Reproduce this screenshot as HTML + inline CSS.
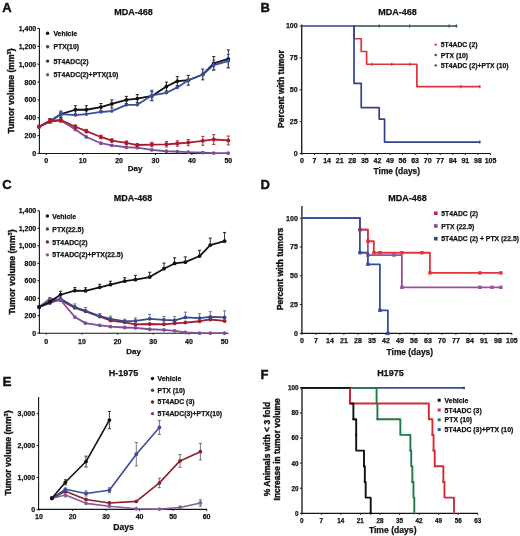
<!DOCTYPE html>
<html><head><meta charset="utf-8"><style>
html,body{margin:0;padding:0;background:#fff;width:520px;height:536px;overflow:hidden}
svg{display:block;filter:blur(0.35px)}
text{font-family:"Liberation Sans", sans-serif;stroke:#222;stroke-width:0.25px;paint-order:stroke}
</style></head><body>
<svg width="520" height="536" viewBox="0 0 520 536">
<rect width="520" height="536" fill="#fff"/>
<line x1="39.40" y1="28.30" x2="39.40" y2="154.10" stroke="#151515" stroke-width="1.1" />
<line x1="38.80" y1="153.50" x2="228.50" y2="153.50" stroke="#151515" stroke-width="1.1" />
<line x1="37.40" y1="153.50" x2="39.40" y2="153.50" stroke="#151515" stroke-width="1" />
<text x="36.20" y="156.00" font-size="7" text-anchor="end" font-weight="bold" fill="#111" >0</text>
<line x1="37.40" y1="135.64" x2="39.40" y2="135.64" stroke="#151515" stroke-width="1" />
<text x="36.20" y="138.14" font-size="7" text-anchor="end" font-weight="bold" fill="#111" >200</text>
<line x1="37.40" y1="117.78" x2="39.40" y2="117.78" stroke="#151515" stroke-width="1" />
<text x="36.20" y="120.28" font-size="7" text-anchor="end" font-weight="bold" fill="#111" >400</text>
<line x1="37.40" y1="99.92" x2="39.40" y2="99.92" stroke="#151515" stroke-width="1" />
<text x="36.20" y="102.42" font-size="7" text-anchor="end" font-weight="bold" fill="#111" >600</text>
<line x1="37.40" y1="82.06" x2="39.40" y2="82.06" stroke="#151515" stroke-width="1" />
<text x="36.20" y="84.56" font-size="7" text-anchor="end" font-weight="bold" fill="#111" >800</text>
<line x1="37.40" y1="64.20" x2="39.40" y2="64.20" stroke="#151515" stroke-width="1" />
<text x="36.20" y="66.70" font-size="7" text-anchor="end" font-weight="bold" fill="#111" >1,000</text>
<line x1="37.40" y1="46.34" x2="39.40" y2="46.34" stroke="#151515" stroke-width="1" />
<text x="36.20" y="48.84" font-size="7" text-anchor="end" font-weight="bold" fill="#111" >1,200</text>
<line x1="37.40" y1="28.48" x2="39.40" y2="28.48" stroke="#151515" stroke-width="1" />
<text x="36.20" y="30.98" font-size="7" text-anchor="end" font-weight="bold" fill="#111" >1,400</text>
<line x1="46.30" y1="153.50" x2="46.30" y2="155.00" stroke="#151515" stroke-width="1" />
<text x="46.30" y="162.90" font-size="7" text-anchor="middle" font-weight="bold" fill="#111" >0</text>
<line x1="82.70" y1="153.50" x2="82.70" y2="155.00" stroke="#151515" stroke-width="1" />
<text x="82.70" y="162.90" font-size="7" text-anchor="middle" font-weight="bold" fill="#111" >10</text>
<line x1="119.10" y1="153.50" x2="119.10" y2="155.00" stroke="#151515" stroke-width="1" />
<text x="119.10" y="162.90" font-size="7" text-anchor="middle" font-weight="bold" fill="#111" >20</text>
<line x1="155.50" y1="153.50" x2="155.50" y2="155.00" stroke="#151515" stroke-width="1" />
<text x="155.50" y="162.90" font-size="7" text-anchor="middle" font-weight="bold" fill="#111" >30</text>
<line x1="191.90" y1="153.50" x2="191.90" y2="155.00" stroke="#151515" stroke-width="1" />
<text x="191.90" y="162.90" font-size="7" text-anchor="middle" font-weight="bold" fill="#111" >40</text>
<line x1="228.30" y1="153.50" x2="228.30" y2="155.00" stroke="#151515" stroke-width="1" />
<text x="228.30" y="162.90" font-size="7" text-anchor="middle" font-weight="bold" fill="#111" >50</text>
<text x="135.10" y="171.10" font-size="8" text-anchor="middle" font-weight="bold" fill="#111" >Day</text>
<text x="14.3" y="91" font-size="8.6" font-weight="bold" fill="#111" text-anchor="middle" style="stroke-width:0.4px" transform="rotate(-90 14.3 91)">Tumor volume (mm<tspan font-size="5.5" dy="-3">3</tspan><tspan dy="3">)</tspan></text>
<text x="133.50" y="15.10" font-size="9" text-anchor="middle" font-weight="bold" fill="#111" >MDA-468</text>
<text x="2.20" y="11.60" font-size="13" text-anchor="start" font-weight="bold" fill="#111" style="stroke:#000;stroke-width:0.4px">A</text>
<line x1="49.94" y1="118.67" x2="49.94" y2="123.14" stroke="#111" stroke-width="0.9" />
<line x1="48.34" y1="118.67" x2="51.54" y2="118.67" stroke="#111" stroke-width="0.9" />
<line x1="48.34" y1="123.14" x2="51.54" y2="123.14" stroke="#111" stroke-width="0.9" />
<line x1="60.86" y1="111.08" x2="60.86" y2="117.33" stroke="#111" stroke-width="0.9" />
<line x1="59.26" y1="111.08" x2="62.46" y2="111.08" stroke="#111" stroke-width="0.9" />
<line x1="59.26" y1="117.33" x2="62.46" y2="117.33" stroke="#111" stroke-width="0.9" />
<line x1="75.42" y1="105.72" x2="75.42" y2="113.76" stroke="#111" stroke-width="0.9" />
<line x1="73.82" y1="105.72" x2="77.02" y2="105.72" stroke="#111" stroke-width="0.9" />
<line x1="73.82" y1="113.76" x2="77.02" y2="113.76" stroke="#111" stroke-width="0.9" />
<line x1="86.34" y1="105.72" x2="86.34" y2="113.76" stroke="#111" stroke-width="0.9" />
<line x1="84.74" y1="105.72" x2="87.94" y2="105.72" stroke="#111" stroke-width="0.9" />
<line x1="84.74" y1="113.76" x2="87.94" y2="113.76" stroke="#111" stroke-width="0.9" />
<line x1="100.90" y1="103.49" x2="100.90" y2="110.64" stroke="#111" stroke-width="0.9" />
<line x1="99.30" y1="103.49" x2="102.50" y2="103.49" stroke="#111" stroke-width="0.9" />
<line x1="99.30" y1="110.64" x2="102.50" y2="110.64" stroke="#111" stroke-width="0.9" />
<line x1="111.82" y1="99.92" x2="111.82" y2="107.96" stroke="#111" stroke-width="0.9" />
<line x1="110.22" y1="99.92" x2="113.42" y2="99.92" stroke="#111" stroke-width="0.9" />
<line x1="110.22" y1="107.96" x2="113.42" y2="107.96" stroke="#111" stroke-width="0.9" />
<line x1="126.38" y1="96.35" x2="126.38" y2="103.49" stroke="#111" stroke-width="0.9" />
<line x1="124.78" y1="96.35" x2="127.98" y2="96.35" stroke="#111" stroke-width="0.9" />
<line x1="124.78" y1="103.49" x2="127.98" y2="103.49" stroke="#111" stroke-width="0.9" />
<line x1="137.30" y1="94.56" x2="137.30" y2="102.60" stroke="#111" stroke-width="0.9" />
<line x1="135.70" y1="94.56" x2="138.90" y2="94.56" stroke="#111" stroke-width="0.9" />
<line x1="135.70" y1="102.60" x2="138.90" y2="102.60" stroke="#111" stroke-width="0.9" />
<line x1="151.86" y1="91.44" x2="151.86" y2="100.37" stroke="#111" stroke-width="0.9" />
<line x1="150.26" y1="91.44" x2="153.46" y2="91.44" stroke="#111" stroke-width="0.9" />
<line x1="150.26" y1="100.37" x2="153.46" y2="100.37" stroke="#111" stroke-width="0.9" />
<line x1="166.42" y1="82.06" x2="166.42" y2="90.99" stroke="#111" stroke-width="0.9" />
<line x1="164.82" y1="82.06" x2="168.02" y2="82.06" stroke="#111" stroke-width="0.9" />
<line x1="164.82" y1="90.99" x2="168.02" y2="90.99" stroke="#111" stroke-width="0.9" />
<line x1="177.34" y1="76.70" x2="177.34" y2="85.63" stroke="#111" stroke-width="0.9" />
<line x1="175.74" y1="76.70" x2="178.94" y2="76.70" stroke="#111" stroke-width="0.9" />
<line x1="175.74" y1="85.63" x2="178.94" y2="85.63" stroke="#111" stroke-width="0.9" />
<line x1="188.26" y1="75.36" x2="188.26" y2="85.19" stroke="#111" stroke-width="0.9" />
<line x1="186.66" y1="75.36" x2="189.86" y2="75.36" stroke="#111" stroke-width="0.9" />
<line x1="186.66" y1="85.19" x2="189.86" y2="85.19" stroke="#111" stroke-width="0.9" />
<line x1="202.82" y1="69.11" x2="202.82" y2="79.83" stroke="#111" stroke-width="0.9" />
<line x1="201.22" y1="69.11" x2="204.42" y2="69.11" stroke="#111" stroke-width="0.9" />
<line x1="201.22" y1="79.83" x2="204.42" y2="79.83" stroke="#111" stroke-width="0.9" />
<line x1="213.74" y1="56.61" x2="213.74" y2="70.00" stroke="#111" stroke-width="0.9" />
<line x1="212.14" y1="56.61" x2="215.34" y2="56.61" stroke="#111" stroke-width="0.9" />
<line x1="212.14" y1="70.00" x2="215.34" y2="70.00" stroke="#111" stroke-width="0.9" />
<line x1="228.30" y1="49.91" x2="228.30" y2="67.77" stroke="#111" stroke-width="0.9" />
<line x1="226.70" y1="49.91" x2="229.90" y2="49.91" stroke="#111" stroke-width="0.9" />
<line x1="226.70" y1="67.77" x2="229.90" y2="67.77" stroke="#111" stroke-width="0.9" />
<polyline points="39.02,126.71 49.94,120.91 60.86,114.21 75.42,109.74 86.34,109.74 100.90,107.06 111.82,103.94 126.38,99.92 137.30,98.58 151.86,95.90 166.42,86.52 177.34,81.17 188.26,80.27 202.82,74.47 213.74,63.31 228.30,58.84" fill="none" stroke="#111" stroke-width="1.8" stroke-linejoin="round" />
<circle cx="39.02" cy="126.71" r="1.9" fill="#111"/>
<circle cx="49.94" cy="120.91" r="1.9" fill="#111"/>
<circle cx="60.86" cy="114.21" r="1.9" fill="#111"/>
<circle cx="75.42" cy="109.74" r="1.9" fill="#111"/>
<circle cx="86.34" cy="109.74" r="1.9" fill="#111"/>
<circle cx="100.90" cy="107.06" r="1.9" fill="#111"/>
<circle cx="111.82" cy="103.94" r="1.9" fill="#111"/>
<circle cx="126.38" cy="99.92" r="1.9" fill="#111"/>
<circle cx="137.30" cy="98.58" r="1.9" fill="#111"/>
<circle cx="151.86" cy="95.90" r="1.9" fill="#111"/>
<circle cx="166.42" cy="86.52" r="1.9" fill="#111"/>
<circle cx="177.34" cy="81.17" r="1.9" fill="#111"/>
<circle cx="188.26" cy="80.27" r="1.9" fill="#111"/>
<circle cx="202.82" cy="74.47" r="1.9" fill="#111"/>
<circle cx="213.74" cy="63.31" r="1.9" fill="#111"/>
<circle cx="228.30" cy="58.84" r="1.9" fill="#111"/>
<line x1="60.86" y1="112.42" x2="60.86" y2="115.99" stroke="#3a509e" stroke-width="0.9" />
<line x1="59.26" y1="112.42" x2="62.46" y2="112.42" stroke="#3a509e" stroke-width="0.9" />
<line x1="59.26" y1="115.99" x2="62.46" y2="115.99" stroke="#3a509e" stroke-width="0.9" />
<line x1="151.86" y1="90.10" x2="151.86" y2="100.81" stroke="#3a509e" stroke-width="0.9" />
<line x1="150.26" y1="90.10" x2="153.46" y2="90.10" stroke="#3a509e" stroke-width="0.9" />
<line x1="150.26" y1="100.81" x2="153.46" y2="100.81" stroke="#3a509e" stroke-width="0.9" />
<line x1="213.74" y1="60.18" x2="213.74" y2="70.00" stroke="#3a509e" stroke-width="0.9" />
<line x1="212.14" y1="60.18" x2="215.34" y2="60.18" stroke="#3a509e" stroke-width="0.9" />
<line x1="212.14" y1="70.00" x2="215.34" y2="70.00" stroke="#3a509e" stroke-width="0.9" />
<line x1="228.30" y1="54.38" x2="228.30" y2="67.77" stroke="#3a509e" stroke-width="0.9" />
<line x1="226.70" y1="54.38" x2="229.90" y2="54.38" stroke="#3a509e" stroke-width="0.9" />
<line x1="226.70" y1="67.77" x2="229.90" y2="67.77" stroke="#3a509e" stroke-width="0.9" />
<polyline points="39.02,126.71 49.94,121.80 60.86,114.21 75.42,115.10 86.34,114.21 100.90,111.98 111.82,111.08 126.38,104.83 137.30,104.83 151.86,95.45 166.42,92.78 177.34,87.42 188.26,80.27 202.82,74.47 213.74,65.09 228.30,61.07" fill="none" stroke="#3a509e" stroke-width="1.8" stroke-linejoin="round" />
<circle cx="39.02" cy="126.71" r="1.8" fill="#3a509e"/>
<circle cx="49.94" cy="121.80" r="1.8" fill="#3a509e"/>
<circle cx="60.86" cy="114.21" r="1.8" fill="#3a509e"/>
<circle cx="75.42" cy="115.10" r="1.8" fill="#3a509e"/>
<circle cx="86.34" cy="114.21" r="1.8" fill="#3a509e"/>
<circle cx="100.90" cy="111.98" r="1.8" fill="#3a509e"/>
<circle cx="111.82" cy="111.08" r="1.8" fill="#3a509e"/>
<circle cx="126.38" cy="104.83" r="1.8" fill="#3a509e"/>
<circle cx="137.30" cy="104.83" r="1.8" fill="#3a509e"/>
<circle cx="151.86" cy="95.45" r="1.8" fill="#3a509e"/>
<circle cx="166.42" cy="92.78" r="1.8" fill="#3a509e"/>
<circle cx="177.34" cy="87.42" r="1.8" fill="#3a509e"/>
<circle cx="188.26" cy="80.27" r="1.8" fill="#3a509e"/>
<circle cx="202.82" cy="74.47" r="1.8" fill="#3a509e"/>
<circle cx="213.74" cy="65.09" r="1.8" fill="#3a509e"/>
<circle cx="228.30" cy="61.07" r="1.8" fill="#3a509e"/>
<line x1="60.86" y1="119.12" x2="60.86" y2="121.80" stroke="#7a4f9a" stroke-width="0.9" />
<line x1="59.26" y1="119.12" x2="62.46" y2="119.12" stroke="#7a4f9a" stroke-width="0.9" />
<line x1="59.26" y1="121.80" x2="62.46" y2="121.80" stroke="#7a4f9a" stroke-width="0.9" />
<line x1="75.42" y1="128.05" x2="75.42" y2="130.73" stroke="#7a4f9a" stroke-width="0.9" />
<line x1="73.82" y1="128.05" x2="77.02" y2="128.05" stroke="#7a4f9a" stroke-width="0.9" />
<line x1="73.82" y1="130.73" x2="77.02" y2="130.73" stroke="#7a4f9a" stroke-width="0.9" />
<polyline points="39.02,126.71 49.94,121.80 60.86,120.46 75.42,129.39 86.34,136.98 100.90,143.23 111.82,145.46 126.38,147.25 137.30,147.70 151.86,149.93 166.42,151.27 177.34,151.54 188.26,152.16 202.82,152.61 213.74,153.05 228.30,153.05" fill="none" stroke="#7a4f9a" stroke-width="1.8" stroke-linejoin="round" />
<circle cx="39.02" cy="126.71" r="1.9" fill="#7a4f9a"/>
<circle cx="49.94" cy="121.80" r="1.9" fill="#7a4f9a"/>
<circle cx="60.86" cy="120.46" r="1.9" fill="#7a4f9a"/>
<circle cx="75.42" cy="129.39" r="1.9" fill="#7a4f9a"/>
<circle cx="86.34" cy="136.98" r="1.9" fill="#7a4f9a"/>
<circle cx="100.90" cy="143.23" r="1.9" fill="#7a4f9a"/>
<circle cx="111.82" cy="145.46" r="1.9" fill="#7a4f9a"/>
<circle cx="126.38" cy="147.25" r="1.9" fill="#7a4f9a"/>
<circle cx="137.30" cy="147.70" r="1.9" fill="#7a4f9a"/>
<circle cx="151.86" cy="149.93" r="1.9" fill="#7a4f9a"/>
<circle cx="166.42" cy="151.27" r="1.9" fill="#7a4f9a"/>
<circle cx="177.34" cy="151.54" r="1.9" fill="#7a4f9a"/>
<circle cx="188.26" cy="152.16" r="1.9" fill="#7a4f9a"/>
<circle cx="202.82" cy="152.61" r="1.9" fill="#7a4f9a"/>
<circle cx="213.74" cy="153.05" r="1.9" fill="#7a4f9a"/>
<circle cx="228.30" cy="153.05" r="1.9" fill="#7a4f9a"/>
<line x1="49.94" y1="119.12" x2="49.94" y2="122.69" stroke="#a81c2e" stroke-width="0.9" />
<line x1="48.34" y1="119.12" x2="51.54" y2="119.12" stroke="#a81c2e" stroke-width="0.9" />
<line x1="48.34" y1="122.69" x2="51.54" y2="122.69" stroke="#a81c2e" stroke-width="0.9" />
<line x1="60.86" y1="117.78" x2="60.86" y2="122.24" stroke="#a81c2e" stroke-width="0.9" />
<line x1="59.26" y1="117.78" x2="62.46" y2="117.78" stroke="#a81c2e" stroke-width="0.9" />
<line x1="59.26" y1="122.24" x2="62.46" y2="122.24" stroke="#a81c2e" stroke-width="0.9" />
<line x1="75.42" y1="124.92" x2="75.42" y2="128.50" stroke="#a81c2e" stroke-width="0.9" />
<line x1="73.82" y1="124.92" x2="77.02" y2="124.92" stroke="#a81c2e" stroke-width="0.9" />
<line x1="73.82" y1="128.50" x2="77.02" y2="128.50" stroke="#a81c2e" stroke-width="0.9" />
<line x1="86.34" y1="129.39" x2="86.34" y2="132.96" stroke="#a81c2e" stroke-width="0.9" />
<line x1="84.74" y1="129.39" x2="87.94" y2="129.39" stroke="#a81c2e" stroke-width="0.9" />
<line x1="84.74" y1="132.96" x2="87.94" y2="132.96" stroke="#a81c2e" stroke-width="0.9" />
<line x1="100.90" y1="135.19" x2="100.90" y2="138.77" stroke="#a81c2e" stroke-width="0.9" />
<line x1="99.30" y1="135.19" x2="102.50" y2="135.19" stroke="#a81c2e" stroke-width="0.9" />
<line x1="99.30" y1="138.77" x2="102.50" y2="138.77" stroke="#a81c2e" stroke-width="0.9" />
<line x1="111.82" y1="138.77" x2="111.82" y2="142.34" stroke="#a81c2e" stroke-width="0.9" />
<line x1="110.22" y1="138.77" x2="113.42" y2="138.77" stroke="#a81c2e" stroke-width="0.9" />
<line x1="110.22" y1="142.34" x2="113.42" y2="142.34" stroke="#a81c2e" stroke-width="0.9" />
<line x1="126.38" y1="141.00" x2="126.38" y2="144.57" stroke="#a81c2e" stroke-width="0.9" />
<line x1="124.78" y1="141.00" x2="127.98" y2="141.00" stroke="#a81c2e" stroke-width="0.9" />
<line x1="124.78" y1="144.57" x2="127.98" y2="144.57" stroke="#a81c2e" stroke-width="0.9" />
<line x1="137.30" y1="143.68" x2="137.30" y2="146.36" stroke="#a81c2e" stroke-width="0.9" />
<line x1="135.70" y1="143.68" x2="138.90" y2="143.68" stroke="#a81c2e" stroke-width="0.9" />
<line x1="135.70" y1="146.36" x2="138.90" y2="146.36" stroke="#a81c2e" stroke-width="0.9" />
<line x1="151.86" y1="142.34" x2="151.86" y2="146.80" stroke="#a81c2e" stroke-width="0.9" />
<line x1="150.26" y1="142.34" x2="153.46" y2="142.34" stroke="#a81c2e" stroke-width="0.9" />
<line x1="150.26" y1="146.80" x2="153.46" y2="146.80" stroke="#a81c2e" stroke-width="0.9" />
<line x1="166.42" y1="141.62" x2="166.42" y2="146.98" stroke="#a81c2e" stroke-width="0.9" />
<line x1="164.82" y1="141.62" x2="168.02" y2="141.62" stroke="#a81c2e" stroke-width="0.9" />
<line x1="164.82" y1="146.98" x2="168.02" y2="146.98" stroke="#a81c2e" stroke-width="0.9" />
<line x1="177.34" y1="140.82" x2="177.34" y2="146.18" stroke="#a81c2e" stroke-width="0.9" />
<line x1="175.74" y1="140.82" x2="178.94" y2="140.82" stroke="#a81c2e" stroke-width="0.9" />
<line x1="175.74" y1="146.18" x2="178.94" y2="146.18" stroke="#a81c2e" stroke-width="0.9" />
<line x1="188.26" y1="139.48" x2="188.26" y2="145.73" stroke="#a81c2e" stroke-width="0.9" />
<line x1="186.66" y1="139.48" x2="189.86" y2="139.48" stroke="#a81c2e" stroke-width="0.9" />
<line x1="186.66" y1="145.73" x2="189.86" y2="145.73" stroke="#a81c2e" stroke-width="0.9" />
<line x1="202.82" y1="136.35" x2="202.82" y2="145.28" stroke="#a81c2e" stroke-width="0.9" />
<line x1="201.22" y1="136.35" x2="204.42" y2="136.35" stroke="#a81c2e" stroke-width="0.9" />
<line x1="201.22" y1="145.28" x2="204.42" y2="145.28" stroke="#a81c2e" stroke-width="0.9" />
<line x1="213.74" y1="134.57" x2="213.74" y2="144.39" stroke="#a81c2e" stroke-width="0.9" />
<line x1="212.14" y1="134.57" x2="215.34" y2="134.57" stroke="#a81c2e" stroke-width="0.9" />
<line x1="212.14" y1="144.39" x2="215.34" y2="144.39" stroke="#a81c2e" stroke-width="0.9" />
<line x1="228.30" y1="136.00" x2="228.30" y2="144.93" stroke="#a81c2e" stroke-width="0.9" />
<line x1="226.70" y1="136.00" x2="229.90" y2="136.00" stroke="#a81c2e" stroke-width="0.9" />
<line x1="226.70" y1="144.93" x2="229.90" y2="144.93" stroke="#a81c2e" stroke-width="0.9" />
<polyline points="39.02,126.71 49.94,120.91 60.86,120.01 75.42,126.71 86.34,131.18 100.90,136.98 111.82,140.55 126.38,142.78 137.30,145.02 151.86,144.57 166.42,144.30 177.34,143.50 188.26,142.61 202.82,140.82 213.74,139.48 228.30,140.46" fill="none" stroke="#a81c2e" stroke-width="1.8" stroke-linejoin="round" />
<circle cx="39.02" cy="126.71" r="2.0" fill="#a81c2e"/>
<circle cx="49.94" cy="120.91" r="2.0" fill="#a81c2e"/>
<circle cx="60.86" cy="120.01" r="2.0" fill="#a81c2e"/>
<circle cx="75.42" cy="126.71" r="2.0" fill="#a81c2e"/>
<circle cx="86.34" cy="131.18" r="2.0" fill="#a81c2e"/>
<circle cx="100.90" cy="136.98" r="2.0" fill="#a81c2e"/>
<circle cx="111.82" cy="140.55" r="2.0" fill="#a81c2e"/>
<circle cx="126.38" cy="142.78" r="2.0" fill="#a81c2e"/>
<circle cx="137.30" cy="145.02" r="2.0" fill="#a81c2e"/>
<circle cx="151.86" cy="144.57" r="2.0" fill="#a81c2e"/>
<circle cx="166.42" cy="144.30" r="2.0" fill="#a81c2e"/>
<circle cx="177.34" cy="143.50" r="2.0" fill="#a81c2e"/>
<circle cx="188.26" cy="142.61" r="2.0" fill="#a81c2e"/>
<circle cx="202.82" cy="140.82" r="2.0" fill="#a81c2e"/>
<circle cx="213.74" cy="139.48" r="2.0" fill="#a81c2e"/>
<circle cx="228.30" cy="140.46" r="2.0" fill="#a81c2e"/>
<circle cx="47.60" cy="33.20" r="1.7" fill="#111"/>
<text x="53.40" y="35.80" font-size="6.9" text-anchor="start" font-weight="bold" fill="#111" >Vehicle</text>
<circle cx="47.60" cy="46.80" r="1.7" fill="#3a3f78"/>
<text x="53.40" y="49.40" font-size="6.9" text-anchor="start" font-weight="bold" fill="#111" >PTX(10)</text>
<circle cx="47.60" cy="61.10" r="1.7" fill="#5e2424"/>
<text x="53.40" y="63.70" font-size="6.9" text-anchor="start" font-weight="bold" fill="#111" >5T4ADC(2)</text>
<circle cx="47.60" cy="74.75" r="1.7" fill="#6a6480"/>
<text x="53.40" y="77.35" font-size="6.9" text-anchor="start" font-weight="bold" fill="#111" >5T4ADC(2)+PTX(10)</text>
<line x1="39.40" y1="210.70" x2="39.40" y2="333.80" stroke="#151515" stroke-width="1.1" />
<line x1="38.80" y1="333.20" x2="228.50" y2="333.20" stroke="#151515" stroke-width="1.1" />
<line x1="37.40" y1="333.20" x2="39.40" y2="333.20" stroke="#151515" stroke-width="1" />
<text x="36.20" y="335.70" font-size="7" text-anchor="end" font-weight="bold" fill="#111" >0</text>
<line x1="37.40" y1="315.72" x2="39.40" y2="315.72" stroke="#151515" stroke-width="1" />
<text x="36.20" y="318.22" font-size="7" text-anchor="end" font-weight="bold" fill="#111" >200</text>
<line x1="37.40" y1="298.24" x2="39.40" y2="298.24" stroke="#151515" stroke-width="1" />
<text x="36.20" y="300.74" font-size="7" text-anchor="end" font-weight="bold" fill="#111" >400</text>
<line x1="37.40" y1="280.76" x2="39.40" y2="280.76" stroke="#151515" stroke-width="1" />
<text x="36.20" y="283.26" font-size="7" text-anchor="end" font-weight="bold" fill="#111" >600</text>
<line x1="37.40" y1="263.28" x2="39.40" y2="263.28" stroke="#151515" stroke-width="1" />
<text x="36.20" y="265.78" font-size="7" text-anchor="end" font-weight="bold" fill="#111" >800</text>
<line x1="37.40" y1="245.80" x2="39.40" y2="245.80" stroke="#151515" stroke-width="1" />
<text x="36.20" y="248.30" font-size="7" text-anchor="end" font-weight="bold" fill="#111" >1,000</text>
<line x1="37.40" y1="228.32" x2="39.40" y2="228.32" stroke="#151515" stroke-width="1" />
<text x="36.20" y="230.82" font-size="7" text-anchor="end" font-weight="bold" fill="#111" >1,200</text>
<line x1="37.40" y1="210.84" x2="39.40" y2="210.84" stroke="#151515" stroke-width="1" />
<text x="36.20" y="213.34" font-size="7" text-anchor="end" font-weight="bold" fill="#111" >1,400</text>
<line x1="46.30" y1="333.20" x2="46.30" y2="334.70" stroke="#151515" stroke-width="1" />
<text x="46.30" y="343.50" font-size="7" text-anchor="middle" font-weight="bold" fill="#111" >0</text>
<line x1="81.95" y1="333.20" x2="81.95" y2="334.70" stroke="#151515" stroke-width="1" />
<text x="81.95" y="343.50" font-size="7" text-anchor="middle" font-weight="bold" fill="#111" >10</text>
<line x1="117.60" y1="333.20" x2="117.60" y2="334.70" stroke="#151515" stroke-width="1" />
<text x="117.60" y="343.50" font-size="7" text-anchor="middle" font-weight="bold" fill="#111" >20</text>
<line x1="153.25" y1="333.20" x2="153.25" y2="334.70" stroke="#151515" stroke-width="1" />
<text x="153.25" y="343.50" font-size="7" text-anchor="middle" font-weight="bold" fill="#111" >30</text>
<line x1="188.90" y1="333.20" x2="188.90" y2="334.70" stroke="#151515" stroke-width="1" />
<text x="188.90" y="343.50" font-size="7" text-anchor="middle" font-weight="bold" fill="#111" >40</text>
<line x1="224.55" y1="333.20" x2="224.55" y2="334.70" stroke="#151515" stroke-width="1" />
<text x="224.55" y="343.50" font-size="7" text-anchor="middle" font-weight="bold" fill="#111" >50</text>
<text x="133.60" y="353.50" font-size="8" text-anchor="middle" font-weight="bold" fill="#111" >Day</text>
<text x="14.5" y="272" font-size="8.6" font-weight="bold" fill="#111" text-anchor="middle" style="stroke-width:0.4px" transform="rotate(-90 14.5 272)">Tumor volume (mm<tspan font-size="5.5" dy="-3">3</tspan><tspan dy="3">)</tspan></text>
<text x="132.90" y="201.20" font-size="9" text-anchor="middle" font-weight="bold" fill="#111" >MDA-468</text>
<text x="2.20" y="188.60" font-size="13" text-anchor="start" font-weight="bold" fill="#111" style="stroke:#000;stroke-width:0.4px">C</text>
<polyline points="39.17,306.98 49.86,301.74 60.56,299.99 74.82,307.85 85.51,311.35 99.78,316.59 110.47,320.53 124.73,322.27 135.43,324.46 149.69,324.02 163.94,324.37 174.64,323.32 185.33,322.62 199.59,321.23 210.29,319.48 224.55,320.88" fill="none" stroke="#a41d2c" stroke-width="1.8" stroke-linejoin="round" />
<circle cx="39.17" cy="306.98" r="2.0" fill="#a41d2c"/>
<circle cx="49.86" cy="301.74" r="2.0" fill="#a41d2c"/>
<circle cx="60.56" cy="299.99" r="2.0" fill="#a41d2c"/>
<circle cx="74.82" cy="307.85" r="2.0" fill="#a41d2c"/>
<circle cx="85.51" cy="311.35" r="2.0" fill="#a41d2c"/>
<circle cx="99.78" cy="316.59" r="2.0" fill="#a41d2c"/>
<circle cx="110.47" cy="320.53" r="2.0" fill="#a41d2c"/>
<circle cx="124.73" cy="322.27" r="2.0" fill="#a41d2c"/>
<circle cx="135.43" cy="324.46" r="2.0" fill="#a41d2c"/>
<circle cx="149.69" cy="324.02" r="2.0" fill="#a41d2c"/>
<circle cx="163.94" cy="324.37" r="2.0" fill="#a41d2c"/>
<circle cx="174.64" cy="323.32" r="2.0" fill="#a41d2c"/>
<circle cx="185.33" cy="322.62" r="2.0" fill="#a41d2c"/>
<circle cx="199.59" cy="321.23" r="2.0" fill="#a41d2c"/>
<circle cx="210.29" cy="319.48" r="2.0" fill="#a41d2c"/>
<circle cx="224.55" cy="320.88" r="2.0" fill="#a41d2c"/>
<line x1="74.82" y1="303.92" x2="74.82" y2="306.98" stroke="#5a6a9a" stroke-width="0.9" />
<line x1="73.22" y1="303.92" x2="76.42" y2="303.92" stroke="#5a6a9a" stroke-width="0.9" />
<line x1="73.22" y1="306.98" x2="76.42" y2="306.98" stroke="#5a6a9a" stroke-width="0.9" />
<line x1="85.51" y1="307.42" x2="85.51" y2="310.91" stroke="#5a6a9a" stroke-width="0.9" />
<line x1="83.91" y1="307.42" x2="87.11" y2="307.42" stroke="#5a6a9a" stroke-width="0.9" />
<line x1="83.91" y1="310.91" x2="87.11" y2="310.91" stroke="#5a6a9a" stroke-width="0.9" />
<line x1="99.78" y1="313.53" x2="99.78" y2="316.16" stroke="#5a6a9a" stroke-width="0.9" />
<line x1="98.18" y1="313.53" x2="101.38" y2="313.53" stroke="#5a6a9a" stroke-width="0.9" />
<line x1="98.18" y1="316.16" x2="101.38" y2="316.16" stroke="#5a6a9a" stroke-width="0.9" />
<line x1="110.47" y1="316.16" x2="110.47" y2="318.78" stroke="#5a6a9a" stroke-width="0.9" />
<line x1="108.87" y1="316.16" x2="112.07" y2="316.16" stroke="#5a6a9a" stroke-width="0.9" />
<line x1="108.87" y1="318.78" x2="112.07" y2="318.78" stroke="#5a6a9a" stroke-width="0.9" />
<line x1="124.73" y1="319.22" x2="124.73" y2="321.40" stroke="#5a6a9a" stroke-width="0.9" />
<line x1="123.13" y1="319.22" x2="126.33" y2="319.22" stroke="#5a6a9a" stroke-width="0.9" />
<line x1="123.13" y1="321.40" x2="126.33" y2="321.40" stroke="#5a6a9a" stroke-width="0.9" />
<line x1="135.43" y1="317.90" x2="135.43" y2="320.96" stroke="#5a6a9a" stroke-width="0.9" />
<line x1="133.83" y1="317.90" x2="137.03" y2="317.90" stroke="#5a6a9a" stroke-width="0.9" />
<line x1="133.83" y1="320.96" x2="137.03" y2="320.96" stroke="#5a6a9a" stroke-width="0.9" />
<line x1="149.69" y1="314.41" x2="149.69" y2="318.78" stroke="#5a6a9a" stroke-width="0.9" />
<line x1="148.09" y1="314.41" x2="151.28" y2="314.41" stroke="#5a6a9a" stroke-width="0.9" />
<line x1="148.09" y1="318.78" x2="151.28" y2="318.78" stroke="#5a6a9a" stroke-width="0.9" />
<line x1="163.94" y1="316.42" x2="163.94" y2="319.92" stroke="#5a6a9a" stroke-width="0.9" />
<line x1="162.34" y1="316.42" x2="165.54" y2="316.42" stroke="#5a6a9a" stroke-width="0.9" />
<line x1="162.34" y1="319.92" x2="165.54" y2="319.92" stroke="#5a6a9a" stroke-width="0.9" />
<line x1="174.64" y1="316.51" x2="174.64" y2="320.44" stroke="#5a6a9a" stroke-width="0.9" />
<line x1="173.04" y1="316.51" x2="176.24" y2="316.51" stroke="#5a6a9a" stroke-width="0.9" />
<line x1="173.04" y1="320.44" x2="176.24" y2="320.44" stroke="#5a6a9a" stroke-width="0.9" />
<line x1="185.33" y1="312.14" x2="185.33" y2="317.38" stroke="#5a6a9a" stroke-width="0.9" />
<line x1="183.73" y1="312.14" x2="186.93" y2="312.14" stroke="#5a6a9a" stroke-width="0.9" />
<line x1="183.73" y1="317.38" x2="186.93" y2="317.38" stroke="#5a6a9a" stroke-width="0.9" />
<line x1="199.59" y1="313.71" x2="199.59" y2="318.08" stroke="#5a6a9a" stroke-width="0.9" />
<line x1="197.99" y1="313.71" x2="201.19" y2="313.71" stroke="#5a6a9a" stroke-width="0.9" />
<line x1="197.99" y1="318.08" x2="201.19" y2="318.08" stroke="#5a6a9a" stroke-width="0.9" />
<line x1="210.29" y1="311.70" x2="210.29" y2="316.94" stroke="#5a6a9a" stroke-width="0.9" />
<line x1="208.69" y1="311.70" x2="211.89" y2="311.70" stroke="#5a6a9a" stroke-width="0.9" />
<line x1="208.69" y1="316.94" x2="211.89" y2="316.94" stroke="#5a6a9a" stroke-width="0.9" />
<line x1="224.55" y1="310.83" x2="224.55" y2="317.38" stroke="#5a6a9a" stroke-width="0.9" />
<line x1="222.95" y1="310.83" x2="226.15" y2="310.83" stroke="#5a6a9a" stroke-width="0.9" />
<line x1="222.95" y1="317.38" x2="226.15" y2="317.38" stroke="#5a6a9a" stroke-width="0.9" />
<polyline points="39.17,306.98 49.86,303.05 60.56,298.68 74.82,306.98 85.51,310.91 99.78,316.16 110.47,318.78 124.73,321.40 135.43,320.96 149.69,318.78 163.94,319.92 174.64,320.44 185.33,317.38 199.59,318.08 210.29,316.94 224.55,317.38" fill="none" stroke="#36498f" stroke-width="1.8" stroke-linejoin="round" />
<circle cx="39.17" cy="306.98" r="1.9" fill="#36498f"/>
<circle cx="49.86" cy="303.05" r="1.9" fill="#36498f"/>
<circle cx="60.56" cy="298.68" r="1.9" fill="#36498f"/>
<circle cx="74.82" cy="306.98" r="1.9" fill="#36498f"/>
<circle cx="85.51" cy="310.91" r="1.9" fill="#36498f"/>
<circle cx="99.78" cy="316.16" r="1.9" fill="#36498f"/>
<circle cx="110.47" cy="318.78" r="1.9" fill="#36498f"/>
<circle cx="124.73" cy="321.40" r="1.9" fill="#36498f"/>
<circle cx="135.43" cy="320.96" r="1.9" fill="#36498f"/>
<circle cx="149.69" cy="318.78" r="1.9" fill="#36498f"/>
<circle cx="163.94" cy="319.92" r="1.9" fill="#36498f"/>
<circle cx="174.64" cy="320.44" r="1.9" fill="#36498f"/>
<circle cx="185.33" cy="317.38" r="1.9" fill="#36498f"/>
<circle cx="199.59" cy="318.08" r="1.9" fill="#36498f"/>
<circle cx="210.29" cy="316.94" r="1.9" fill="#36498f"/>
<circle cx="224.55" cy="317.38" r="1.9" fill="#36498f"/>
<polyline points="39.17,306.98 49.86,298.68 60.56,299.99 74.82,317.03 85.51,323.15 99.78,325.33 110.47,326.64 124.73,327.52 135.43,327.96 149.69,329.27 163.94,329.88 174.64,330.84 185.33,332.50 199.59,333.20 210.29,333.20 224.55,333.20" fill="none" stroke="#7d4f98" stroke-width="1.8" stroke-linejoin="round" />
<circle cx="39.17" cy="306.98" r="1.9" fill="#7d4f98"/>
<circle cx="49.86" cy="298.68" r="1.9" fill="#7d4f98"/>
<circle cx="60.56" cy="299.99" r="1.9" fill="#7d4f98"/>
<circle cx="74.82" cy="317.03" r="1.9" fill="#7d4f98"/>
<circle cx="85.51" cy="323.15" r="1.9" fill="#7d4f98"/>
<circle cx="99.78" cy="325.33" r="1.9" fill="#7d4f98"/>
<circle cx="110.47" cy="326.64" r="1.9" fill="#7d4f98"/>
<circle cx="124.73" cy="327.52" r="1.9" fill="#7d4f98"/>
<circle cx="135.43" cy="327.96" r="1.9" fill="#7d4f98"/>
<circle cx="149.69" cy="329.27" r="1.9" fill="#7d4f98"/>
<circle cx="163.94" cy="329.88" r="1.9" fill="#7d4f98"/>
<circle cx="174.64" cy="330.84" r="1.9" fill="#7d4f98"/>
<circle cx="185.33" cy="332.50" r="1.9" fill="#7d4f98"/>
<circle cx="199.59" cy="333.20" r="1.9" fill="#7d4f98"/>
<circle cx="210.29" cy="333.20" r="1.9" fill="#7d4f98"/>
<circle cx="224.55" cy="333.20" r="1.9" fill="#7d4f98"/>
<line x1="60.56" y1="291.25" x2="60.56" y2="294.74" stroke="#111" stroke-width="0.9" />
<line x1="58.96" y1="291.25" x2="62.16" y2="291.25" stroke="#111" stroke-width="0.9" />
<line x1="58.96" y1="294.74" x2="62.16" y2="294.74" stroke="#111" stroke-width="0.9" />
<line x1="74.82" y1="287.58" x2="74.82" y2="290.64" stroke="#111" stroke-width="0.9" />
<line x1="73.22" y1="287.58" x2="76.42" y2="287.58" stroke="#111" stroke-width="0.9" />
<line x1="73.22" y1="290.64" x2="76.42" y2="290.64" stroke="#111" stroke-width="0.9" />
<line x1="85.51" y1="287.75" x2="85.51" y2="290.81" stroke="#111" stroke-width="0.9" />
<line x1="83.91" y1="287.75" x2="87.11" y2="287.75" stroke="#111" stroke-width="0.9" />
<line x1="83.91" y1="290.81" x2="87.11" y2="290.81" stroke="#111" stroke-width="0.9" />
<line x1="99.78" y1="284.26" x2="99.78" y2="287.31" stroke="#111" stroke-width="0.9" />
<line x1="98.18" y1="284.26" x2="101.38" y2="284.26" stroke="#111" stroke-width="0.9" />
<line x1="98.18" y1="287.31" x2="101.38" y2="287.31" stroke="#111" stroke-width="0.9" />
<line x1="110.47" y1="281.20" x2="110.47" y2="284.69" stroke="#111" stroke-width="0.9" />
<line x1="108.87" y1="281.20" x2="112.07" y2="281.20" stroke="#111" stroke-width="0.9" />
<line x1="108.87" y1="284.69" x2="112.07" y2="284.69" stroke="#111" stroke-width="0.9" />
<line x1="124.73" y1="277.70" x2="124.73" y2="281.20" stroke="#111" stroke-width="0.9" />
<line x1="123.13" y1="277.70" x2="126.33" y2="277.70" stroke="#111" stroke-width="0.9" />
<line x1="123.13" y1="281.20" x2="126.33" y2="281.20" stroke="#111" stroke-width="0.9" />
<line x1="135.43" y1="275.34" x2="135.43" y2="279.71" stroke="#111" stroke-width="0.9" />
<line x1="133.83" y1="275.34" x2="137.03" y2="275.34" stroke="#111" stroke-width="0.9" />
<line x1="133.83" y1="279.71" x2="137.03" y2="279.71" stroke="#111" stroke-width="0.9" />
<line x1="149.69" y1="272.28" x2="149.69" y2="277.09" stroke="#111" stroke-width="0.9" />
<line x1="148.09" y1="272.28" x2="151.28" y2="272.28" stroke="#111" stroke-width="0.9" />
<line x1="148.09" y1="277.09" x2="151.28" y2="277.09" stroke="#111" stroke-width="0.9" />
<line x1="163.94" y1="263.02" x2="163.94" y2="268.70" stroke="#111" stroke-width="0.9" />
<line x1="162.34" y1="263.02" x2="165.54" y2="263.02" stroke="#111" stroke-width="0.9" />
<line x1="162.34" y1="268.70" x2="165.54" y2="268.70" stroke="#111" stroke-width="0.9" />
<line x1="174.64" y1="257.77" x2="174.64" y2="263.45" stroke="#111" stroke-width="0.9" />
<line x1="173.04" y1="257.77" x2="176.24" y2="257.77" stroke="#111" stroke-width="0.9" />
<line x1="173.04" y1="263.45" x2="176.24" y2="263.45" stroke="#111" stroke-width="0.9" />
<line x1="185.33" y1="256.90" x2="185.33" y2="262.14" stroke="#111" stroke-width="0.9" />
<line x1="183.73" y1="256.90" x2="186.93" y2="256.90" stroke="#111" stroke-width="0.9" />
<line x1="183.73" y1="262.14" x2="186.93" y2="262.14" stroke="#111" stroke-width="0.9" />
<line x1="199.59" y1="250.34" x2="199.59" y2="256.03" stroke="#111" stroke-width="0.9" />
<line x1="197.99" y1="250.34" x2="201.19" y2="250.34" stroke="#111" stroke-width="0.9" />
<line x1="197.99" y1="256.03" x2="201.19" y2="256.03" stroke="#111" stroke-width="0.9" />
<line x1="210.29" y1="238.11" x2="210.29" y2="245.10" stroke="#111" stroke-width="0.9" />
<line x1="208.69" y1="238.11" x2="211.89" y2="238.11" stroke="#111" stroke-width="0.9" />
<line x1="208.69" y1="245.10" x2="211.89" y2="245.10" stroke="#111" stroke-width="0.9" />
<line x1="224.55" y1="232.43" x2="224.55" y2="241.17" stroke="#111" stroke-width="0.9" />
<line x1="222.95" y1="232.43" x2="226.15" y2="232.43" stroke="#111" stroke-width="0.9" />
<line x1="222.95" y1="241.17" x2="226.15" y2="241.17" stroke="#111" stroke-width="0.9" />
<polyline points="39.17,306.98 49.86,301.74 60.56,294.74 74.82,290.64 85.51,290.81 99.78,287.31 110.47,284.69 124.73,281.20 135.43,279.71 149.69,277.09 163.94,268.70 174.64,263.45 185.33,262.14 199.59,256.03 210.29,245.10 224.55,241.17" fill="none" stroke="#111" stroke-width="1.8" stroke-linejoin="round" />
<circle cx="39.17" cy="306.98" r="1.9" fill="#111"/>
<circle cx="49.86" cy="301.74" r="1.9" fill="#111"/>
<circle cx="60.56" cy="294.74" r="1.9" fill="#111"/>
<circle cx="74.82" cy="290.64" r="1.9" fill="#111"/>
<circle cx="85.51" cy="290.81" r="1.9" fill="#111"/>
<circle cx="99.78" cy="287.31" r="1.9" fill="#111"/>
<circle cx="110.47" cy="284.69" r="1.9" fill="#111"/>
<circle cx="124.73" cy="281.20" r="1.9" fill="#111"/>
<circle cx="135.43" cy="279.71" r="1.9" fill="#111"/>
<circle cx="149.69" cy="277.09" r="1.9" fill="#111"/>
<circle cx="163.94" cy="268.70" r="1.9" fill="#111"/>
<circle cx="174.64" cy="263.45" r="1.9" fill="#111"/>
<circle cx="185.33" cy="262.14" r="1.9" fill="#111"/>
<circle cx="199.59" cy="256.03" r="1.9" fill="#111"/>
<circle cx="210.29" cy="245.10" r="1.9" fill="#111"/>
<circle cx="224.55" cy="241.17" r="1.9" fill="#111"/>
<circle cx="47.40" cy="216.00" r="1.7" fill="#111"/>
<text x="52.30" y="218.60" font-size="6.9" text-anchor="start" font-weight="bold" fill="#111" >Vehicle</text>
<circle cx="47.40" cy="228.95" r="1.7" fill="#3a4580"/>
<text x="52.30" y="231.55" font-size="6.9" text-anchor="start" font-weight="bold" fill="#111" >PTX(22.5)</text>
<circle cx="47.40" cy="241.90" r="1.7" fill="#7a2020"/>
<text x="52.30" y="244.50" font-size="6.9" text-anchor="start" font-weight="bold" fill="#111" >5T4ADC(2)</text>
<circle cx="47.40" cy="254.85" r="1.7" fill="#7a5a90"/>
<text x="52.30" y="257.45" font-size="6.9" text-anchor="start" font-weight="bold" fill="#111" >5T4ADC(2)+PTX(22.5)</text>
<line x1="301.70" y1="24.60" x2="301.70" y2="154.10" stroke="#151515" stroke-width="1.3" />
<line x1="301.10" y1="153.50" x2="490.48" y2="153.50" stroke="#151515" stroke-width="1.2" />
<line x1="299.70" y1="153.50" x2="301.70" y2="153.50" stroke="#151515" stroke-width="1" />
<text x="297.60" y="155.90" font-size="7" text-anchor="end" font-weight="bold" fill="#111" >0</text>
<line x1="299.70" y1="121.62" x2="301.70" y2="121.62" stroke="#151515" stroke-width="1" />
<text x="297.60" y="124.03" font-size="7" text-anchor="end" font-weight="bold" fill="#111" >25</text>
<line x1="299.70" y1="89.75" x2="301.70" y2="89.75" stroke="#151515" stroke-width="1" />
<text x="297.60" y="92.15" font-size="7" text-anchor="end" font-weight="bold" fill="#111" >50</text>
<line x1="299.70" y1="57.88" x2="301.70" y2="57.88" stroke="#151515" stroke-width="1" />
<text x="297.60" y="60.27" font-size="7" text-anchor="end" font-weight="bold" fill="#111" >75</text>
<line x1="299.70" y1="26.00" x2="301.70" y2="26.00" stroke="#151515" stroke-width="1" />
<text x="297.60" y="28.40" font-size="7" text-anchor="end" font-weight="bold" fill="#111" >100</text>
<line x1="302.00" y1="153.50" x2="302.00" y2="155.00" stroke="#151515" stroke-width="1" />
<text x="302.00" y="163.10" font-size="7" text-anchor="middle" font-weight="bold" fill="#111" >0</text>
<line x1="314.56" y1="153.50" x2="314.56" y2="155.00" stroke="#151515" stroke-width="1" />
<text x="314.56" y="163.10" font-size="7" text-anchor="middle" font-weight="bold" fill="#111" >7</text>
<line x1="327.13" y1="153.50" x2="327.13" y2="155.00" stroke="#151515" stroke-width="1" />
<text x="327.13" y="163.10" font-size="7" text-anchor="middle" font-weight="bold" fill="#111" >14</text>
<line x1="339.69" y1="153.50" x2="339.69" y2="155.00" stroke="#151515" stroke-width="1" />
<text x="339.69" y="163.10" font-size="7" text-anchor="middle" font-weight="bold" fill="#111" >21</text>
<line x1="352.26" y1="153.50" x2="352.26" y2="155.00" stroke="#151515" stroke-width="1" />
<text x="352.26" y="163.10" font-size="7" text-anchor="middle" font-weight="bold" fill="#111" >28</text>
<line x1="364.82" y1="153.50" x2="364.82" y2="155.00" stroke="#151515" stroke-width="1" />
<text x="364.82" y="163.10" font-size="7" text-anchor="middle" font-weight="bold" fill="#111" >35</text>
<line x1="377.39" y1="153.50" x2="377.39" y2="155.00" stroke="#151515" stroke-width="1" />
<text x="377.39" y="163.10" font-size="7" text-anchor="middle" font-weight="bold" fill="#111" >42</text>
<line x1="389.95" y1="153.50" x2="389.95" y2="155.00" stroke="#151515" stroke-width="1" />
<text x="389.95" y="163.10" font-size="7" text-anchor="middle" font-weight="bold" fill="#111" >49</text>
<line x1="402.52" y1="153.50" x2="402.52" y2="155.00" stroke="#151515" stroke-width="1" />
<text x="402.52" y="163.10" font-size="7" text-anchor="middle" font-weight="bold" fill="#111" >56</text>
<line x1="415.08" y1="153.50" x2="415.08" y2="155.00" stroke="#151515" stroke-width="1" />
<text x="415.08" y="163.10" font-size="7" text-anchor="middle" font-weight="bold" fill="#111" >63</text>
<line x1="427.65" y1="153.50" x2="427.65" y2="155.00" stroke="#151515" stroke-width="1" />
<text x="427.65" y="163.10" font-size="7" text-anchor="middle" font-weight="bold" fill="#111" >70</text>
<line x1="440.22" y1="153.50" x2="440.22" y2="155.00" stroke="#151515" stroke-width="1" />
<text x="440.22" y="163.10" font-size="7" text-anchor="middle" font-weight="bold" fill="#111" >77</text>
<line x1="452.78" y1="153.50" x2="452.78" y2="155.00" stroke="#151515" stroke-width="1" />
<text x="452.78" y="163.10" font-size="7" text-anchor="middle" font-weight="bold" fill="#111" >84</text>
<line x1="465.35" y1="153.50" x2="465.35" y2="155.00" stroke="#151515" stroke-width="1" />
<text x="465.35" y="163.10" font-size="7" text-anchor="middle" font-weight="bold" fill="#111" >91</text>
<line x1="477.91" y1="153.50" x2="477.91" y2="155.00" stroke="#151515" stroke-width="1" />
<text x="477.91" y="163.10" font-size="7" text-anchor="middle" font-weight="bold" fill="#111" >98</text>
<line x1="490.48" y1="153.50" x2="490.48" y2="155.00" stroke="#151515" stroke-width="1" />
<text x="490.48" y="163.10" font-size="7" text-anchor="middle" font-weight="bold" fill="#111" >105</text>
<polyline points="354.06,26.00 456.37,26.00 456.37,26.00" fill="none" stroke="#2a5539" stroke-width="1.7" stroke-linejoin="round" stroke-linejoin="miter" stroke-linecap="square"/>
<line x1="379.19" y1="24.40" x2="379.19" y2="27.60" stroke="#2a5539" stroke-width="1.2" />
<line x1="409.70" y1="24.40" x2="409.70" y2="27.60" stroke="#2a5539" stroke-width="1.2" />
<line x1="449.19" y1="24.40" x2="449.19" y2="27.60" stroke="#2a5539" stroke-width="1.2" />
<line x1="456.37" y1="24.40" x2="456.37" y2="27.60" stroke="#2a5539" stroke-width="1.2" />
<polyline points="354.06,26.00 354.06,26.00 354.06,38.75 361.24,38.75 361.24,51.50 366.62,51.50 366.62,64.25 416.88,64.25 416.88,86.56 479.70,86.56 479.70,86.56" fill="none" stroke="#e0323a" stroke-width="1.7" stroke-linejoin="round" stroke-linejoin="miter" stroke-linecap="square"/>
<line x1="372.00" y1="62.65" x2="372.00" y2="65.85" stroke="#e0323a" stroke-width="1.2" />
<line x1="391.75" y1="62.65" x2="391.75" y2="65.85" stroke="#e0323a" stroke-width="1.2" />
<line x1="409.70" y1="62.65" x2="409.70" y2="65.85" stroke="#e0323a" stroke-width="1.2" />
<line x1="460.86" y1="84.96" x2="460.86" y2="88.16" stroke="#e0323a" stroke-width="1.2" />
<line x1="479.70" y1="84.96" x2="479.70" y2="88.16" stroke="#e0323a" stroke-width="1.2" />
<polyline points="302.00,26.00 354.06,26.00 354.06,83.38 361.24,83.38 361.24,107.60 379.19,107.60 379.19,119.08 384.57,119.08 384.57,142.03 479.70,142.03 479.70,142.03" fill="none" stroke="#34418f" stroke-width="1.7" stroke-linejoin="round" stroke-linejoin="miter" stroke-linecap="square"/>
<line x1="479.70" y1="140.43" x2="479.70" y2="143.62" stroke="#34418f" stroke-width="1.2" />
<text x="397.50" y="15.10" font-size="9" text-anchor="middle" font-weight="bold" fill="#111" >MDA-468</text>
<text x="260.60" y="11.60" font-size="13" text-anchor="start" font-weight="bold" fill="#111" style="stroke:#000;stroke-width:0.4px">B</text>
<text x="396.80" y="174.00" font-size="8.4" text-anchor="middle" font-weight="bold" fill="#111" >Time (days)</text>
<text x="283.8" y="89" font-size="8.6" font-weight="bold" fill="#111" text-anchor="middle" style="stroke-width:0.4px" transform="rotate(-90 283.8 89)">Percent with tumor</text>
<circle cx="435.70" cy="44.60" r="1.2" fill="#e0323a"/>
<text x="440.80" y="47.10" font-size="6.8" text-anchor="start" font-weight="bold" fill="#111" >5T4ADC (2)</text>
<circle cx="435.70" cy="55.00" r="1.2" fill="#2a4a35"/>
<text x="440.80" y="57.50" font-size="6.8" text-anchor="start" font-weight="bold" fill="#111" >PTX (10)</text>
<circle cx="435.70" cy="65.40" r="1.2" fill="#34418f"/>
<text x="440.80" y="67.90" font-size="6.8" text-anchor="start" font-weight="bold" fill="#111" >5T4ADC (2)+PTX (10)</text>
<line x1="301.90" y1="206.00" x2="301.90" y2="334.00" stroke="#151515" stroke-width="1.3" />
<line x1="301.30" y1="333.40" x2="511.90" y2="333.40" stroke="#151515" stroke-width="1.2" />
<line x1="299.90" y1="333.40" x2="301.90" y2="333.40" stroke="#151515" stroke-width="1" />
<text x="297.80" y="335.80" font-size="7" text-anchor="end" font-weight="bold" fill="#111" >0</text>
<line x1="299.90" y1="304.60" x2="301.90" y2="304.60" stroke="#151515" stroke-width="1" />
<text x="297.80" y="307.00" font-size="7" text-anchor="end" font-weight="bold" fill="#111" >25</text>
<line x1="299.90" y1="275.80" x2="301.90" y2="275.80" stroke="#151515" stroke-width="1" />
<text x="297.80" y="278.20" font-size="7" text-anchor="end" font-weight="bold" fill="#111" >50</text>
<line x1="299.90" y1="247.00" x2="301.90" y2="247.00" stroke="#151515" stroke-width="1" />
<text x="297.80" y="249.40" font-size="7" text-anchor="end" font-weight="bold" fill="#111" >75</text>
<line x1="299.90" y1="218.20" x2="301.90" y2="218.20" stroke="#151515" stroke-width="1" />
<text x="297.80" y="220.60" font-size="7" text-anchor="end" font-weight="bold" fill="#111" >100</text>
<line x1="301.90" y1="333.40" x2="301.90" y2="334.90" stroke="#151515" stroke-width="1" />
<text x="301.90" y="343.00" font-size="7" text-anchor="middle" font-weight="bold" fill="#111" >0</text>
<line x1="315.90" y1="333.40" x2="315.90" y2="334.90" stroke="#151515" stroke-width="1" />
<text x="315.90" y="343.00" font-size="7" text-anchor="middle" font-weight="bold" fill="#111" >7</text>
<line x1="329.90" y1="333.40" x2="329.90" y2="334.90" stroke="#151515" stroke-width="1" />
<text x="329.90" y="343.00" font-size="7" text-anchor="middle" font-weight="bold" fill="#111" >14</text>
<line x1="343.90" y1="333.40" x2="343.90" y2="334.90" stroke="#151515" stroke-width="1" />
<text x="343.90" y="343.00" font-size="7" text-anchor="middle" font-weight="bold" fill="#111" >21</text>
<line x1="357.90" y1="333.40" x2="357.90" y2="334.90" stroke="#151515" stroke-width="1" />
<text x="357.90" y="343.00" font-size="7" text-anchor="middle" font-weight="bold" fill="#111" >28</text>
<line x1="371.90" y1="333.40" x2="371.90" y2="334.90" stroke="#151515" stroke-width="1" />
<text x="371.90" y="343.00" font-size="7" text-anchor="middle" font-weight="bold" fill="#111" >35</text>
<line x1="385.90" y1="333.40" x2="385.90" y2="334.90" stroke="#151515" stroke-width="1" />
<text x="385.90" y="343.00" font-size="7" text-anchor="middle" font-weight="bold" fill="#111" >42</text>
<line x1="399.90" y1="333.40" x2="399.90" y2="334.90" stroke="#151515" stroke-width="1" />
<text x="399.90" y="343.00" font-size="7" text-anchor="middle" font-weight="bold" fill="#111" >49</text>
<line x1="413.90" y1="333.40" x2="413.90" y2="334.90" stroke="#151515" stroke-width="1" />
<text x="413.90" y="343.00" font-size="7" text-anchor="middle" font-weight="bold" fill="#111" >56</text>
<line x1="427.90" y1="333.40" x2="427.90" y2="334.90" stroke="#151515" stroke-width="1" />
<text x="427.90" y="343.00" font-size="7" text-anchor="middle" font-weight="bold" fill="#111" >63</text>
<line x1="441.90" y1="333.40" x2="441.90" y2="334.90" stroke="#151515" stroke-width="1" />
<text x="441.90" y="343.00" font-size="7" text-anchor="middle" font-weight="bold" fill="#111" >70</text>
<line x1="455.90" y1="333.40" x2="455.90" y2="334.90" stroke="#151515" stroke-width="1" />
<text x="455.90" y="343.00" font-size="7" text-anchor="middle" font-weight="bold" fill="#111" >77</text>
<line x1="469.90" y1="333.40" x2="469.90" y2="334.90" stroke="#151515" stroke-width="1" />
<text x="469.90" y="343.00" font-size="7" text-anchor="middle" font-weight="bold" fill="#111" >84</text>
<line x1="483.90" y1="333.40" x2="483.90" y2="334.90" stroke="#151515" stroke-width="1" />
<text x="483.90" y="343.00" font-size="7" text-anchor="middle" font-weight="bold" fill="#111" >91</text>
<line x1="497.90" y1="333.40" x2="497.90" y2="334.90" stroke="#151515" stroke-width="1" />
<text x="497.90" y="343.00" font-size="7" text-anchor="middle" font-weight="bold" fill="#111" >98</text>
<line x1="511.90" y1="333.40" x2="511.90" y2="334.90" stroke="#151515" stroke-width="1" />
<text x="511.90" y="343.00" font-size="7" text-anchor="middle" font-weight="bold" fill="#111" >105</text>
<polyline points="301.90,218.20 359.90,218.20 359.90,229.72 367.90,229.72 367.90,255.06 401.90,255.06 401.90,287.32 500.90,287.32 500.90,287.32" fill="none" stroke="#9a4fa3" stroke-width="1.8" stroke-linejoin="round" stroke-linejoin="miter" stroke-linecap="square"/>
<rect x="366.20" y="253.36" width="3.4" height="3.4" fill="#9a4fa3"/>
<rect x="392.20" y="253.36" width="3.4" height="3.4" fill="#9a4fa3"/>
<rect x="400.20" y="285.62" width="3.4" height="3.4" fill="#9a4fa3"/>
<rect x="478.20" y="285.62" width="3.4" height="3.4" fill="#9a4fa3"/>
<rect x="490.20" y="285.62" width="3.4" height="3.4" fill="#9a4fa3"/>
<rect x="499.20" y="285.62" width="3.4" height="3.4" fill="#9a4fa3"/>
<polyline points="301.90,218.20 359.90,218.20 359.90,229.72 367.90,229.72 367.90,241.24 373.90,241.24 373.90,252.76 429.90,252.76 429.90,272.92 500.90,272.92 500.90,272.92" fill="none" stroke="#e5323b" stroke-width="1.8" stroke-linejoin="round" stroke-linejoin="miter" stroke-linecap="square"/>
<rect x="366.20" y="239.54" width="3.4" height="3.4" fill="#e5323b"/>
<rect x="372.20" y="251.06" width="3.4" height="3.4" fill="#e5323b"/>
<rect x="378.20" y="251.06" width="3.4" height="3.4" fill="#e5323b"/>
<rect x="400.20" y="251.06" width="3.4" height="3.4" fill="#e5323b"/>
<rect x="420.20" y="251.06" width="3.4" height="3.4" fill="#e5323b"/>
<rect x="428.20" y="271.22" width="3.4" height="3.4" fill="#e5323b"/>
<rect x="478.20" y="271.22" width="3.4" height="3.4" fill="#e5323b"/>
<rect x="499.20" y="271.22" width="3.4" height="3.4" fill="#e5323b"/>
<polyline points="301.90,218.20 359.90,218.20 359.90,252.76 367.90,252.76 367.90,264.28 379.90,264.28 379.90,310.36 387.90,310.36 387.90,333.40" fill="none" stroke="#34509a" stroke-width="1.8" stroke-linejoin="round" stroke-linejoin="miter" stroke-linecap="square"/>
<rect x="358.20" y="251.06" width="3.4" height="3.4" fill="#34509a"/>
<rect x="366.20" y="262.58" width="3.4" height="3.4" fill="#34509a"/>
<rect x="378.20" y="308.66" width="3.4" height="3.4" fill="#34509a"/>
<rect x="386.20" y="331.70" width="3.4" height="3.4" fill="#34509a"/>
<rect x="358.20" y="228.02" width="3.4" height="3.4" fill="#7a3a5a"/>
<text x="407.50" y="201.30" font-size="9" text-anchor="middle" font-weight="bold" fill="#111" >MDA-468</text>
<text x="260.60" y="188.60" font-size="13" text-anchor="start" font-weight="bold" fill="#111" style="stroke:#000;stroke-width:0.4px">D</text>
<text x="409.80" y="355.30" font-size="8.4" text-anchor="middle" font-weight="bold" fill="#111" >Time (days)</text>
<text x="283.3" y="269" font-size="8.6" font-weight="bold" fill="#111" text-anchor="middle" style="stroke-width:0.4px" transform="rotate(-90 283.3 269)">Percent with tumors</text>
<rect x="434.00" y="211.50" width="3.6" height="3.6" fill="#b8283a"/>
<text x="441.20" y="215.80" font-size="6.85" text-anchor="start" font-weight="bold" fill="#111" >5T4ADC (2)</text>
<rect x="434.00" y="224.20" width="3.6" height="3.6" fill="#8a4a8e"/>
<text x="441.20" y="228.50" font-size="6.85" text-anchor="start" font-weight="bold" fill="#111" >PTX (22.5)</text>
<rect x="434.00" y="236.90" width="3.6" height="3.6" fill="#2c4a7c"/>
<text x="441.20" y="241.20" font-size="6.85" text-anchor="start" font-weight="bold" fill="#111" >5T4ADC (2) + PTX (22.5)</text>
<line x1="38.60" y1="397.00" x2="38.60" y2="510.00" stroke="#151515" stroke-width="1.1" />
<line x1="38.00" y1="509.40" x2="207.12" y2="509.40" stroke="#151515" stroke-width="1.1" />
<line x1="36.60" y1="509.40" x2="38.60" y2="509.40" stroke="#151515" stroke-width="1" />
<text x="35.10" y="511.90" font-size="7" text-anchor="end" font-weight="bold" fill="#111" >0</text>
<line x1="36.60" y1="477.50" x2="38.60" y2="477.50" stroke="#151515" stroke-width="1" />
<text x="35.10" y="480.00" font-size="7" text-anchor="end" font-weight="bold" fill="#111" >1,000</text>
<line x1="36.60" y1="445.60" x2="38.60" y2="445.60" stroke="#151515" stroke-width="1" />
<text x="35.10" y="448.10" font-size="7" text-anchor="end" font-weight="bold" fill="#111" >2,000</text>
<line x1="36.60" y1="413.70" x2="38.60" y2="413.70" stroke="#151515" stroke-width="1" />
<text x="35.10" y="416.20" font-size="7" text-anchor="end" font-weight="bold" fill="#111" >3,000</text>
<line x1="39.02" y1="509.40" x2="39.02" y2="510.90" stroke="#151515" stroke-width="1" />
<text x="39.02" y="519.40" font-size="7" text-anchor="middle" font-weight="bold" fill="#111" >10</text>
<line x1="72.54" y1="509.40" x2="72.54" y2="510.90" stroke="#151515" stroke-width="1" />
<text x="72.54" y="519.40" font-size="7" text-anchor="middle" font-weight="bold" fill="#111" >20</text>
<line x1="106.06" y1="509.40" x2="106.06" y2="510.90" stroke="#151515" stroke-width="1" />
<text x="106.06" y="519.40" font-size="7" text-anchor="middle" font-weight="bold" fill="#111" >30</text>
<line x1="139.58" y1="509.40" x2="139.58" y2="510.90" stroke="#151515" stroke-width="1" />
<text x="139.58" y="519.40" font-size="7" text-anchor="middle" font-weight="bold" fill="#111" >40</text>
<line x1="173.10" y1="509.40" x2="173.10" y2="510.90" stroke="#151515" stroke-width="1" />
<text x="173.10" y="519.40" font-size="7" text-anchor="middle" font-weight="bold" fill="#111" >50</text>
<line x1="206.62" y1="509.40" x2="206.62" y2="510.90" stroke="#151515" stroke-width="1" />
<text x="206.62" y="519.40" font-size="7" text-anchor="middle" font-weight="bold" fill="#111" >60</text>
<text x="123.60" y="530.00" font-size="8.6" text-anchor="middle" font-weight="bold" fill="#111" >Days</text>
<text x="10.7" y="453" font-size="8.6" font-weight="bold" fill="#111" text-anchor="middle" style="stroke-width:0.4px" transform="rotate(-90 10.7 453)">Tumor volume (mm<tspan font-size="5.5" dy="-3">3</tspan><tspan dy="3">)</tspan></text>
<text x="123.50" y="375.60" font-size="9" text-anchor="middle" font-weight="bold" fill="#111" >H-1975</text>
<text x="2.40" y="386.40" font-size="13.5" text-anchor="start" font-weight="bold" fill="#111" style="stroke:#000;stroke-width:0.4px">E</text>
<line x1="65.40" y1="493.14" x2="65.40" y2="496.95" stroke="#555" stroke-width="0.8" />
<line x1="63.80" y1="493.14" x2="67.00" y2="493.14" stroke="#555" stroke-width="0.8" />
<line x1="63.80" y1="496.95" x2="67.00" y2="496.95" stroke="#555" stroke-width="0.8" />
<line x1="180.00" y1="506.21" x2="180.00" y2="508.76" stroke="#555" stroke-width="0.8" />
<line x1="178.40" y1="506.21" x2="181.60" y2="506.21" stroke="#555" stroke-width="0.8" />
<line x1="178.40" y1="508.76" x2="181.60" y2="508.76" stroke="#555" stroke-width="0.8" />
<line x1="200.40" y1="499.84" x2="200.40" y2="506.20" stroke="#555" stroke-width="0.8" />
<line x1="198.80" y1="499.84" x2="202.00" y2="499.84" stroke="#555" stroke-width="0.8" />
<line x1="198.80" y1="506.20" x2="202.00" y2="506.20" stroke="#555" stroke-width="0.8" />
<polyline points="51.90,498.23 65.40,495.04 86.00,503.34 109.40,506.21 136.30,508.76 159.40,509.08 180.00,507.49 200.40,503.02" fill="none" stroke="#80609e" stroke-width="1.6" stroke-linejoin="round" />
<circle cx="51.90" cy="498.23" r="1.9" fill="#80609e"/>
<circle cx="65.40" cy="495.04" r="1.9" fill="#80609e"/>
<circle cx="86.00" cy="503.34" r="1.9" fill="#80609e"/>
<circle cx="109.40" cy="506.21" r="1.9" fill="#80609e"/>
<circle cx="136.30" cy="508.76" r="1.9" fill="#80609e"/>
<circle cx="159.40" cy="509.08" r="1.9" fill="#80609e"/>
<circle cx="180.00" cy="507.49" r="1.9" fill="#80609e"/>
<circle cx="200.40" cy="503.02" r="1.9" fill="#80609e"/>
<line x1="159.40" y1="478.15" x2="159.40" y2="487.69" stroke="#555" stroke-width="0.8" />
<line x1="157.80" y1="478.15" x2="161.00" y2="478.15" stroke="#555" stroke-width="0.8" />
<line x1="157.80" y1="487.69" x2="161.00" y2="487.69" stroke="#555" stroke-width="0.8" />
<line x1="180.00" y1="454.55" x2="180.00" y2="467.27" stroke="#555" stroke-width="0.8" />
<line x1="178.40" y1="454.55" x2="181.60" y2="454.55" stroke="#555" stroke-width="0.8" />
<line x1="178.40" y1="467.27" x2="181.60" y2="467.27" stroke="#555" stroke-width="0.8" />
<line x1="200.40" y1="443.39" x2="200.40" y2="459.93" stroke="#555" stroke-width="0.8" />
<line x1="198.80" y1="443.39" x2="202.00" y2="443.39" stroke="#555" stroke-width="0.8" />
<line x1="198.80" y1="459.93" x2="202.00" y2="459.93" stroke="#555" stroke-width="0.8" />
<polyline points="51.90,498.23 65.40,491.22 86.00,499.51 109.40,503.02 136.30,501.42 159.40,482.92 180.00,460.91 200.40,451.66" fill="none" stroke="#8e2030" stroke-width="1.6" stroke-linejoin="round" />
<circle cx="51.90" cy="498.23" r="1.9" fill="#8e2030"/>
<circle cx="65.40" cy="491.22" r="1.9" fill="#8e2030"/>
<circle cx="86.00" cy="499.51" r="1.9" fill="#8e2030"/>
<circle cx="109.40" cy="503.02" r="1.9" fill="#8e2030"/>
<circle cx="136.30" cy="501.42" r="1.9" fill="#8e2030"/>
<circle cx="159.40" cy="482.92" r="1.9" fill="#8e2030"/>
<circle cx="180.00" cy="460.91" r="1.9" fill="#8e2030"/>
<circle cx="200.40" cy="451.66" r="1.9" fill="#8e2030"/>
<line x1="65.40" y1="488.03" x2="65.40" y2="490.57" stroke="#555" stroke-width="0.8" />
<line x1="63.80" y1="488.03" x2="67.00" y2="488.03" stroke="#555" stroke-width="0.8" />
<line x1="63.80" y1="490.57" x2="67.00" y2="490.57" stroke="#555" stroke-width="0.8" />
<line x1="86.00" y1="490.91" x2="86.00" y2="495.99" stroke="#555" stroke-width="0.8" />
<line x1="84.40" y1="490.91" x2="87.60" y2="490.91" stroke="#555" stroke-width="0.8" />
<line x1="84.40" y1="495.99" x2="87.60" y2="495.99" stroke="#555" stroke-width="0.8" />
<line x1="109.40" y1="487.72" x2="109.40" y2="492.80" stroke="#555" stroke-width="0.8" />
<line x1="107.80" y1="487.72" x2="111.00" y2="487.72" stroke="#555" stroke-width="0.8" />
<line x1="107.80" y1="492.80" x2="111.00" y2="492.80" stroke="#555" stroke-width="0.8" />
<line x1="136.30" y1="442.45" x2="136.30" y2="465.98" stroke="#555" stroke-width="0.8" />
<line x1="134.70" y1="442.45" x2="137.90" y2="442.45" stroke="#555" stroke-width="0.8" />
<line x1="134.70" y1="465.98" x2="137.90" y2="465.98" stroke="#555" stroke-width="0.8" />
<line x1="159.40" y1="420.42" x2="159.40" y2="434.41" stroke="#555" stroke-width="0.8" />
<line x1="157.80" y1="420.42" x2="161.00" y2="420.42" stroke="#555" stroke-width="0.8" />
<line x1="157.80" y1="434.41" x2="161.00" y2="434.41" stroke="#555" stroke-width="0.8" />
<polyline points="51.90,498.23 65.40,489.30 86.00,493.45 109.40,490.26 136.30,454.21 159.40,427.42" fill="none" stroke="#3a4c9c" stroke-width="1.6" stroke-linejoin="round" />
<circle cx="51.90" cy="498.23" r="1.9" fill="#3a4c9c"/>
<circle cx="65.40" cy="489.30" r="1.9" fill="#3a4c9c"/>
<circle cx="86.00" cy="493.45" r="1.9" fill="#3a4c9c"/>
<circle cx="109.40" cy="490.26" r="1.9" fill="#3a4c9c"/>
<circle cx="136.30" cy="454.21" r="1.9" fill="#3a4c9c"/>
<circle cx="159.40" cy="427.42" r="1.9" fill="#3a4c9c"/>
<line x1="65.40" y1="479.74" x2="65.40" y2="484.83" stroke="#111" stroke-width="0.8" />
<line x1="63.80" y1="479.74" x2="67.00" y2="479.74" stroke="#111" stroke-width="0.8" />
<line x1="63.80" y1="484.83" x2="67.00" y2="484.83" stroke="#111" stroke-width="0.8" />
<line x1="86.00" y1="456.14" x2="86.00" y2="466.96" stroke="#111" stroke-width="0.8" />
<line x1="84.40" y1="456.14" x2="87.60" y2="456.14" stroke="#111" stroke-width="0.8" />
<line x1="84.40" y1="466.96" x2="87.60" y2="466.96" stroke="#111" stroke-width="0.8" />
<line x1="109.40" y1="411.49" x2="109.40" y2="428.67" stroke="#111" stroke-width="0.8" />
<line x1="107.80" y1="411.49" x2="111.00" y2="411.49" stroke="#111" stroke-width="0.8" />
<line x1="107.80" y1="428.67" x2="111.00" y2="428.67" stroke="#111" stroke-width="0.8" />
<polyline points="51.90,498.23 65.40,482.28 86.00,461.55 109.40,420.08" fill="none" stroke="#111" stroke-width="1.6" stroke-linejoin="round" />
<circle cx="51.90" cy="498.23" r="1.9" fill="#111"/>
<circle cx="65.40" cy="482.28" r="1.9" fill="#111"/>
<circle cx="86.00" cy="461.55" r="1.9" fill="#111"/>
<circle cx="109.40" cy="420.08" r="1.9" fill="#111"/>
<circle cx="152.50" cy="378.50" r="1.7" fill="#111"/>
<text x="157.60" y="381.00" font-size="6.85" text-anchor="start" font-weight="bold" fill="#111" >Vehicle</text>
<circle cx="152.50" cy="390.22" r="1.7" fill="#3a3f80"/>
<text x="157.60" y="392.72" font-size="6.85" text-anchor="start" font-weight="bold" fill="#111" >PTX (10)</text>
<circle cx="152.50" cy="401.94" r="1.7" fill="#6a2424"/>
<text x="157.60" y="404.44" font-size="6.85" text-anchor="start" font-weight="bold" fill="#111" >5T4ADC (3)</text>
<circle cx="152.50" cy="413.66" r="1.7" fill="#6a4a80"/>
<text x="157.60" y="416.16" font-size="6.85" text-anchor="start" font-weight="bold" fill="#111" >5T4ADC(3)+PTX(10)</text>
<line x1="302.00" y1="387.50" x2="302.00" y2="513.90" stroke="#151515" stroke-width="1.3" />
<line x1="301.40" y1="513.30" x2="477.72" y2="513.30" stroke="#151515" stroke-width="1.2" />
<line x1="300.00" y1="513.30" x2="302.00" y2="513.30" stroke="#151515" stroke-width="1" />
<text x="298.60" y="515.70" font-size="6.3" text-anchor="end" font-weight="bold" fill="#111" >0</text>
<line x1="300.00" y1="488.22" x2="302.00" y2="488.22" stroke="#151515" stroke-width="1" />
<text x="298.60" y="490.62" font-size="6.3" text-anchor="end" font-weight="bold" fill="#111" >20</text>
<line x1="300.00" y1="463.14" x2="302.00" y2="463.14" stroke="#151515" stroke-width="1" />
<text x="298.60" y="465.54" font-size="6.3" text-anchor="end" font-weight="bold" fill="#111" >40</text>
<line x1="300.00" y1="438.06" x2="302.00" y2="438.06" stroke="#151515" stroke-width="1" />
<text x="298.60" y="440.46" font-size="6.3" text-anchor="end" font-weight="bold" fill="#111" >60</text>
<line x1="300.00" y1="412.98" x2="302.00" y2="412.98" stroke="#151515" stroke-width="1" />
<text x="298.60" y="415.38" font-size="6.3" text-anchor="end" font-weight="bold" fill="#111" >80</text>
<line x1="300.00" y1="387.90" x2="302.00" y2="387.90" stroke="#151515" stroke-width="1" />
<text x="298.60" y="390.30" font-size="6.3" text-anchor="end" font-weight="bold" fill="#111" >100</text>
<line x1="301.70" y1="513.30" x2="301.70" y2="514.80" stroke="#151515" stroke-width="1" />
<text x="301.70" y="522.90" font-size="6.3" text-anchor="middle" font-weight="bold" fill="#111" >0</text>
<line x1="321.26" y1="513.30" x2="321.26" y2="514.80" stroke="#151515" stroke-width="1" />
<text x="321.26" y="522.90" font-size="6.3" text-anchor="middle" font-weight="bold" fill="#111" >7</text>
<line x1="340.82" y1="513.30" x2="340.82" y2="514.80" stroke="#151515" stroke-width="1" />
<text x="340.82" y="522.90" font-size="6.3" text-anchor="middle" font-weight="bold" fill="#111" >14</text>
<line x1="360.37" y1="513.30" x2="360.37" y2="514.80" stroke="#151515" stroke-width="1" />
<text x="360.37" y="522.90" font-size="6.3" text-anchor="middle" font-weight="bold" fill="#111" >21</text>
<line x1="379.93" y1="513.30" x2="379.93" y2="514.80" stroke="#151515" stroke-width="1" />
<text x="379.93" y="522.90" font-size="6.3" text-anchor="middle" font-weight="bold" fill="#111" >28</text>
<line x1="399.49" y1="513.30" x2="399.49" y2="514.80" stroke="#151515" stroke-width="1" />
<text x="399.49" y="522.90" font-size="6.3" text-anchor="middle" font-weight="bold" fill="#111" >35</text>
<line x1="419.05" y1="513.30" x2="419.05" y2="514.80" stroke="#151515" stroke-width="1" />
<text x="419.05" y="522.90" font-size="6.3" text-anchor="middle" font-weight="bold" fill="#111" >42</text>
<line x1="438.61" y1="513.30" x2="438.61" y2="514.80" stroke="#151515" stroke-width="1" />
<text x="438.61" y="522.90" font-size="6.3" text-anchor="middle" font-weight="bold" fill="#111" >49</text>
<line x1="458.16" y1="513.30" x2="458.16" y2="514.80" stroke="#151515" stroke-width="1" />
<text x="458.16" y="522.90" font-size="6.3" text-anchor="middle" font-weight="bold" fill="#111" >56</text>
<line x1="477.72" y1="513.30" x2="477.72" y2="514.80" stroke="#151515" stroke-width="1" />
<text x="477.72" y="522.90" font-size="6.3" text-anchor="middle" font-weight="bold" fill="#111" >63</text>
<polyline points="301.70,387.90 463.75,387.90 463.75,387.90" fill="none" stroke="#3a4c9a" stroke-width="1.9" stroke-linejoin="round" stroke-linejoin="miter" stroke-linecap="square"/>
<rect x="462.55" y="386.70" width="2.4" height="2.4" fill="#3a4c9a"/>
<polyline points="301.70,387.90 350.04,387.90 350.04,403.57 428.83,403.57 428.83,419.25 432.46,419.25 432.46,434.92 433.58,434.92 433.58,450.60 434.69,450.60 434.69,466.27 443.36,466.27 443.36,481.95 444.47,481.95 444.47,497.62 453.97,497.62 453.97,513.30" fill="none" stroke="#d42a32" stroke-width="1.9" stroke-linejoin="round" stroke-linejoin="miter" stroke-linecap="square"/>
<rect x="431.46" y="433.92" width="2" height="2" fill="#d42a32"/>
<rect x="432.58" y="449.60" width="2" height="2" fill="#d42a32"/>
<rect x="442.36" y="480.95" width="2" height="2" fill="#d42a32"/>
<polyline points="301.70,387.90 376.58,387.90 376.58,403.57 377.42,403.57 377.42,419.25 400.33,419.25 400.33,434.92 410.39,434.92 410.39,450.60 411.22,450.60 411.22,466.27 412.34,466.27 412.34,481.95 413.46,481.95 413.46,497.62 414.30,497.62 414.30,513.30" fill="none" stroke="#1f7a4a" stroke-width="1.9" stroke-linejoin="round" stroke-linejoin="miter" stroke-linecap="square"/>
<rect x="376.42" y="418.25" width="2" height="2" fill="#1f7a4a"/>
<rect x="409.39" y="449.60" width="2" height="2" fill="#1f7a4a"/>
<rect x="411.34" y="480.95" width="2" height="2" fill="#1f7a4a"/>
<polyline points="301.70,387.90 350.04,387.90 350.04,403.57 353.39,403.57 353.39,419.25 356.18,419.25 356.18,434.92 356.18,434.92 356.18,450.60 364.01,450.60 364.01,466.27 364.84,466.27 364.84,481.95 365.68,481.95 365.68,497.62 370.71,497.62 370.71,513.30" fill="none" stroke="#111" stroke-width="1.9" stroke-linejoin="round" stroke-linejoin="miter" stroke-linecap="square"/>
<rect x="352.39" y="418.25" width="2" height="2" fill="#111"/>
<rect x="355.18" y="433.92" width="2" height="2" fill="#111"/>
<rect x="363.01" y="465.27" width="2" height="2" fill="#111"/>
<rect x="363.84" y="480.95" width="2" height="2" fill="#111"/>
<rect x="369.71" y="512.30" width="2" height="2" fill="#111"/>
<line x1="350.04" y1="387.90" x2="350.04" y2="403.57" stroke="#d42a32" stroke-width="1.9" />
<text x="390.40" y="375.60" font-size="9" text-anchor="middle" font-weight="bold" fill="#111" >H1975</text>
<text x="260.40" y="379.20" font-size="13" text-anchor="start" font-weight="bold" fill="#111" style="stroke:#000;stroke-width:0.4px">F</text>
<text x="392.70" y="532.50" font-size="8.6" text-anchor="middle" font-weight="bold" fill="#111" >Time (days)</text>
<text x="269.9" y="449.1" font-size="8.5" font-weight="bold" fill="#111" text-anchor="middle" style="stroke-width:0.4px" transform="rotate(-90 269.9 449.1)">% Animals with &lt; 3 fold</text>
<text x="280.2" y="449.3" font-size="8.45" font-weight="bold" fill="#111" text-anchor="middle" style="stroke-width:0.4px" transform="rotate(-90 280.2 449.3)">Increase in tumor volume</text>
<rect x="437.70" y="398.70" width="3.0" height="3.0" fill="#111"/>
<text x="444.60" y="402.70" font-size="6.9" text-anchor="start" font-weight="bold" fill="#111" >Vehicle</text>
<rect x="437.70" y="408.50" width="3.0" height="3.0" fill="#d42a32"/>
<text x="444.60" y="412.50" font-size="6.9" text-anchor="start" font-weight="bold" fill="#111" >5T4ADC (3)</text>
<rect x="437.70" y="418.30" width="3.0" height="3.0" fill="#1f7a4a"/>
<text x="444.60" y="422.30" font-size="6.9" text-anchor="start" font-weight="bold" fill="#111" >PTX (10)</text>
<rect x="437.70" y="428.10" width="3.0" height="3.0" fill="#3a4c9a"/>
<text x="444.60" y="432.10" font-size="6.9" text-anchor="start" font-weight="bold" fill="#111" >5T4ADC (3)+PTX (10)</text>
</svg>
</body></html>
